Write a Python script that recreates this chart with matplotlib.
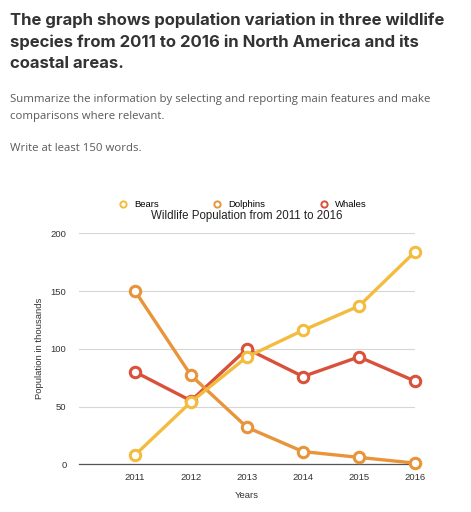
import matplotlib
matplotlib.use("Agg")
import matplotlib.pyplot as plt
from matplotlib.lines import Line2D

# data
years = [2011, 2012, 2013, 2014, 2015, 2016]
bears = [8, 54, 93, 116, 137, 184]
dolphins = [150, 77, 32, 11, 6, 1]
whales = [80, 55, 100, 76, 93, 72]
series_names = ["Bears", "Dolphins", "Whales"]
y_ticks = [0, 50, 100, 150, 200]

colors = {"Bears": "#F3BC3E", "Dolphins": "#E8943A", "Whales": "#D9513A"}

W, H = 471, 512
fig = plt.figure(figsize=(W / 100, H / 100), dpi=100)
fig.patch.set_facecolor("white")
plt.rcParams["font.family"] = ["Liberation Sans", "DejaVu Sans"]


def fy(py):
    """pixel row -> figure fraction"""
    return 1 - py / H


heading = [
    "The graph shows population variation in three wildlife",
    "species from 2011 to 2016 in North America and its",
    "coastal areas.",
]
for i, line in enumerate(heading):
    fig.text(10 / W, fy(25 + i * 21.5), line, fontsize=12, fontweight="bold",
             color="#333333", family="Inter", va="baseline")

sub = [
    "Summarize the information by selecting and reporting main features and make",
    "comparisons where relevant.",
]
for i, line in enumerate(sub):
    fig.text(10 / W, fy(102 + i * 16.5), line, fontsize=8.2, color="#5a5a5a",
             family="Open Sans", va="baseline")
fig.text(10 / W, fy(151), "Write at least 150 words.", fontsize=8.2, color="#5a5a5a",
         family="Open Sans", va="baseline")

# plot area
left, right, top, bottom = 79, 415, 233.3, 464.3
ax = fig.add_axes([left / W, fy(bottom), (right - left) / W, (bottom - top) / H])
ax.set_xlim(2010, 2016)
ax.set_ylim(0, 200)

data = {"Bears": bears, "Dolphins": dolphins, "Whales": whales}
zorders = {"Whales": 3, "Dolphins": 4, "Bears": 5}
for name in series_names:
    ax.plot(years, data[name], color=colors[name], lw=2.4, marker="o", ms=7.5,
            mfc="white", mec=colors[name], mew=2.2, zorder=zorders[name], clip_on=False)

ax.set_yticks(y_ticks)
ax.set_xticks(years)
ax.tick_params(axis="both", length=0, labelsize=6.8, colors="#333333")
ax.tick_params(axis="x", pad=6)
ax.tick_params(axis="y", pad=9)
ax.grid(axis="y", color="#D6D6D6", lw=0.8)
ax.set_axisbelow(True)
for s in ["top", "right", "left"]:
    ax.spines[s].set_visible(False)
ax.spines["bottom"].set_color("#555555")
ax.spines["bottom"].set_linewidth(0.9)
ax.spines["bottom"].set_zorder(2)

ax.set_xlabel("Years", fontsize=6.8, color="#333333", labelpad=7)
ax.set_ylabel("Population in thousands", fontsize=6.8, color="#333333", labelpad=5)

fig.text(247 / W, fy(216), "Wildlife Population from 2011 to 2016", fontsize=8.3,
         color="#222222", ha="center", va="center")

handles = [Line2D([], [], ls="none", marker="o", ms=4.5, mfc="white",
                  mec=colors[n], mew=1.4) for n in series_names]
fig.legend(handles, series_names, loc="center", bbox_to_anchor=(242 / W, fy(204.5)),
           ncol=3, frameon=False, fontsize=6.8, columnspacing=5.6, handletextpad=0.6,
           handlelength=1.2)

fig.savefig("out.png", dpi=100, facecolor="white")
